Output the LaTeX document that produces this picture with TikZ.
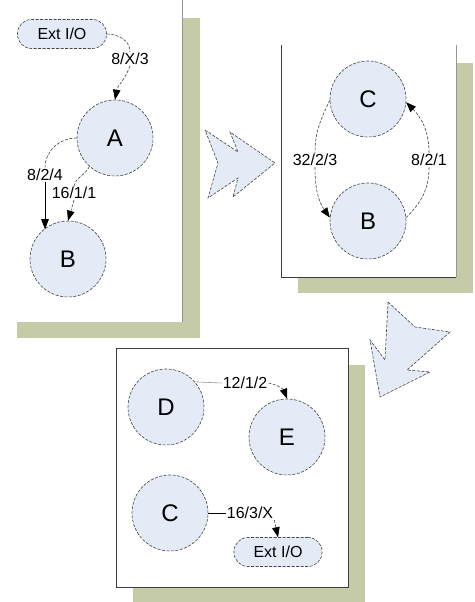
\documentclass[tikz,border=0pt]{standalone}
\usepackage{fontspec}
\setmainfont{Liberation Sans}
\usetikzlibrary{arrows.meta}
\definecolor{nodefill}{RGB}{228,234,246}
\definecolor{shadowc}{RGB}{196,203,166}
\definecolor{edgec}{RGB}{70,70,70}
\definecolor{panelgray}{RGB}{150,150,150}
\definecolor{paneldark}{RGB}{60,60,60}
\tikzset{
  dl/.style={draw=edgec, line width=0.6pt, dash pattern=on 3pt off 1.5pt},
  sl/.style={draw=black, line width=0.7pt},
  ll/.style={draw=panelgray, line width=0.6pt},
  arr/.style={-{Triangle[length=10pt,width=7.5pt,color=black]}},
  state/.style={circle, dl, fill=nodefill, minimum size=76pt, inner sep=0pt,
    font=\fontsize{24}{28}\selectfont},
  io/.style={rectangle, rounded corners=14pt, dl, fill=nodefill,
    minimum width=89pt, minimum height=29pt, inner sep=0pt,
    font=\fontsize{16}{19}\selectfont},
  lbl/.style={inner sep=1pt, font=\fontsize{16}{19}\selectfont},
  shadowbox/.style={fill=shadowc, draw=none},
  chev/.style={dl, fill=nodefill},
}
\begin{document}
\begin{tikzpicture}[x=1pt,y=1pt]
\useasboundingbox (0,0) rectangle (474,602);
\fill[white] (0,0) rectangle (474,602);
% panel 1
\fill[shadowbox] (17,264) rectangle (200,584);
\fill[white] (0,280) rectangle (182,602);
\draw[ll] (182,602) -- (182,280);
% panel 2
\fill[shadowbox] (298,309) rectangle (473,539);
\fill[white] (281,325) rectangle (456,557);
\draw[draw=paneldark, line width=0.7pt] (281,557) -- (281,325) -- (456,325);
\draw[ll] (456,325) -- (456,557);
% panel 3
\fill[shadowbox] (133,0) rectangle (365,237);
\draw[draw=paneldark, line width=0.7pt, fill=white] (116,15) rectangle (348,254);
% chevrons
\draw[chev] (205,472) -- (238,450) -- (230,470) -- (275,439) -- (233,405) -- (238,424) -- (208,404) -- (218,439) -- cycle;
\draw[chev] (388,300) -- (415,275) -- (450,270) -- (407,232) -- (430,230) -- (380,205) -- (370,262) -- (385,242) -- cycle;
% panel 1 nodes
\node[io] (e1) at (62,568) {Ext I/O};
\node[state] (A) at (115,464) {A};
\node[state] (B) at (68,343) {B};
\node[lbl] (l1) at (130,543) {8/X/3};
\node[lbl] (l2) at (45,427) {8/2/4};
\node[lbl] (l3) at (74,409) {16/1/1};
\draw[dl] (e1.east) to[out=0,in=90] (l1.north);
\draw[dl,arr] (l1.south) to[out=-110,in=80] (A.north);
\draw[dl] (A.west) to[out=180,in=90] (l2.north);
\draw[sl,arr] (l2.south) -- (l2.south |- B.129);
\draw[dl] (A.228) to[out=-115,in=75] (l3.north);
\draw[dl,arr] (l3.south) -- (B.north);
% panel 2 nodes
\node[state] (C2) at (368,503) {C};
\node[state] (B2) at (368,381) {B};
\node[lbl] (l4) at (315,442) {32/2/3};
\node[lbl] (l5) at (429,442) {8/2/1};
\draw[dl] (C2.182) to[out=-115,in=90] (l4.north);
\draw[dl,arr] (l4.south) to[out=-90,in=125] (B2.175);
\draw[dl] (B2.5) to[out=45,in=-90] (l5.south);
\draw[dl,arr] (l5.north) to[out=90,in=-45] (C2.-5);
% panel 3 nodes
\node[state] (D) at (166,195) {D};
\node[state] (E) at (287,165) {E};
\node[state] (C3) at (170,89) {C};
\node[io, minimum width=88pt] (e2) at (278,50) {Ext I/O};
\node[lbl] (l6) at (245,219) {12/1/2};
\node[lbl] (l7) at (250,89) {16/3/X};
\draw[ll] (D.41) -- (l6.west);
\draw[dl,arr] (l6.east) to[out=-10,in=110] (E.north);
\draw[sl] (C3.east) -- (l7.west);
\draw[dl,arr] (l7.south east) -- (e2.north);
\end{tikzpicture}
\end{document}
